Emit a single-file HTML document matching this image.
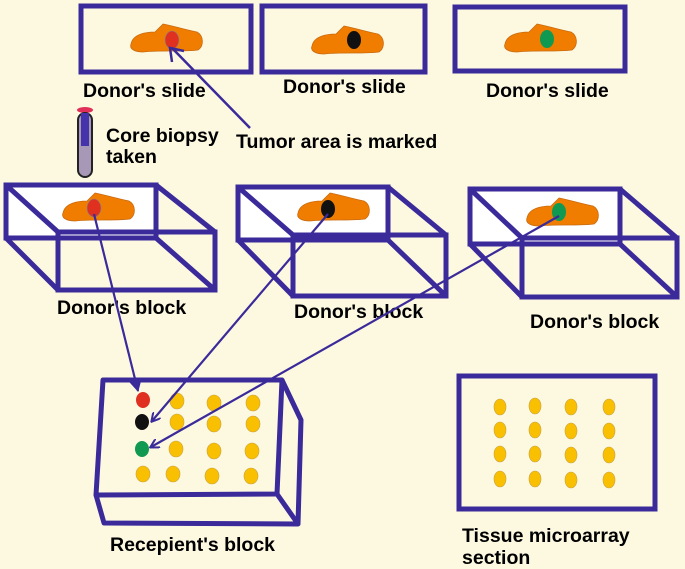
<html><body style="margin:0;background:#fdf9e1">
<svg width="685" height="569" xmlns="http://www.w3.org/2000/svg" style="display:block;font-family:'Liberation Sans',sans-serif;font-weight:bold;font-size:19.5px">
<defs>
<path id="blob" d="M0,20 C2,10 15,8 24,8 L32,0 C42,2 56,6 66,8 C73,12 73,22 67,26 C50,28 30,26 12,28 C4,28 -2,25 0,20 Z" fill="#f07d00" stroke="#c96a10" stroke-width="0.8"/>
<marker id="ah" markerWidth="10" markerHeight="10" refX="8" refY="5" orient="auto" markerUnits="userSpaceOnUse"><path d="M0,0 L9,5 L0,10" fill="none" stroke="#3b2a9a" stroke-width="2"/></marker>
<marker id="ahf" markerWidth="14" markerHeight="14" refX="12" refY="7" orient="auto" markerUnits="userSpaceOnUse"><path d="M0,0 L13,7 L0,14 Z" fill="#3b2a9a"/></marker>
</defs>
<rect width="685" height="569" fill="#fdf9e1"/>
<g fill="none" stroke="#3b2a9a" stroke-width="5">
<rect x="81" y="6" width="170" height="66"/>
<rect x="262" y="6" width="163" height="66"/>
<rect x="455" y="7" width="170" height="64"/>
</g>
<use href="#blob" x="131" y="24"/>
<ellipse cx="172" cy="40" rx="7" ry="9" fill="#e03020" stroke="#888" stroke-width="0.6"/>
<use href="#blob" x="312" y="26"/>
<ellipse cx="354" cy="40" rx="7" ry="9" fill="#111"/>
<use href="#blob" x="505" y="24"/>
<ellipse cx="547" cy="39" rx="7" ry="9" fill="#109950"/>
<text x="83" y="97">Donor's slide</text>
<text x="283" y="93">Donor's slide</text>
<text x="486" y="97">Donor's slide</text>
<line x1="250" y1="128" x2="172" y2="48" stroke="#3b2a9a" stroke-width="2.5"/>
<path d="M172,62 L170,48 L184,51" fill="none" stroke="#3b2a9a" stroke-width="2.5"/>
<text x="236" y="148">Tumor area is marked</text>
<text x="106" y="142">Core biopsy</text><text x="106" y="163">taken</text>
<ellipse cx="85" cy="110" rx="8" ry="3" fill="#e0305a"/>
<rect x="78" y="113" width="14" height="64" rx="7" fill="#a898b8" stroke="#222" stroke-width="2"/>
<rect x="81" y="113" width="8" height="33" fill="#4433aa"/>
<g stroke="#3b2a9a" stroke-width="5" fill="none">
<rect x="6" y="185" width="150" height="53" fill="#fff"/>
<line x1="6" y1="185" x2="58" y2="232"/><line x1="156" y1="185" x2="215" y2="232"/>
<line x1="6" y1="238" x2="58" y2="290"/><line x1="156" y1="238" x2="215" y2="290"/>
<rect x="58" y="232" width="157" height="58"/>
<rect x="238" y="187" width="150" height="53" fill="#fff"/>
<line x1="238" y1="187" x2="293" y2="235"/><line x1="388" y1="187" x2="446" y2="235"/>
<line x1="238" y1="240" x2="293" y2="296"/><line x1="388" y1="240" x2="446" y2="296"/>
<rect x="293" y="235" width="153" height="61"/>
<rect x="470" y="189" width="150" height="55" fill="#fff"/>
<line x1="470" y1="189" x2="522" y2="238"/><line x1="620" y1="189" x2="677" y2="238"/>
<line x1="470" y1="244" x2="522" y2="297"/><line x1="620" y1="244" x2="677" y2="297"/>
<rect x="522" y="238" width="155" height="59"/>
</g>
<use href="#blob" x="63" y="193"/><ellipse cx="94" cy="208" rx="7" ry="9" fill="#e03020" stroke="#888" stroke-width="0.6"/>
<use href="#blob" x="298" y="193"/><ellipse cx="328" cy="209" rx="7" ry="9" fill="#111"/>
<use href="#blob" x="527" y="198"/><ellipse cx="559" cy="212" rx="7" ry="9" fill="#109950"/>
<text x="57" y="314">Donor's block</text>
<text x="294" y="318">Donor's block</text>
<text x="530" y="328">Donor's block</text>
<g stroke="#3b2a9a" stroke-width="5" fill="none" stroke-linejoin="round">
<path d="M103,380 L282,380 L277,494 L96,495 Z"/>
<path d="M282,380 L301,420 L298,524 L104,523 L96,495"/>
<line x1="277" y1="494" x2="298" y2="524"/>
</g>
<g fill="#f8c000" stroke="#c9a040" stroke-width="0.6">
<ellipse cx="177" cy="401" rx="7" ry="8"/><ellipse cx="214" cy="403" rx="7" ry="8"/><ellipse cx="253" cy="403" rx="7" ry="8"/>
<ellipse cx="177" cy="422" rx="7" ry="8"/><ellipse cx="214" cy="424" rx="7" ry="8"/><ellipse cx="253" cy="424" rx="7" ry="8"/>
<ellipse cx="176" cy="449" rx="7" ry="8"/><ellipse cx="214" cy="451" rx="7" ry="8"/><ellipse cx="252" cy="451" rx="7" ry="8"/>
<ellipse cx="143" cy="474" rx="7" ry="8"/><ellipse cx="173" cy="474" rx="7" ry="8"/><ellipse cx="212" cy="476" rx="7" ry="8"/><ellipse cx="251" cy="476" rx="7" ry="8"/>
</g>
<ellipse cx="143" cy="400" rx="7" ry="8" fill="#e03020"/>
<ellipse cx="142" cy="422" rx="7" ry="8" fill="#111"/>
<ellipse cx="142" cy="449" rx="7" ry="8" fill="#109950"/>
<g stroke="#3b2a9a" stroke-width="2.2">
<line x1="94" y1="214" x2="138" y2="391" marker-end="url(#ahf)"/>
<line x1="328" y1="214" x2="152" y2="421" marker-end="url(#ah)"/>
<line x1="559" y1="216" x2="151" y2="447" marker-end="url(#ah)"/>
</g>
<text x="110" y="551">Recepient's block</text>
<rect x="459" y="376" width="196" height="133" fill="none" stroke="#3b2a9a" stroke-width="5"/>
<g fill="#f8c000" stroke="#c9a040" stroke-width="0.6">
<ellipse cx="500" cy="407" rx="6" ry="8"/><ellipse cx="535" cy="406" rx="6" ry="8"/><ellipse cx="571" cy="407" rx="6" ry="8"/><ellipse cx="609" cy="407" rx="6" ry="8"/>
<ellipse cx="500" cy="430" rx="6" ry="8"/><ellipse cx="535" cy="430" rx="6" ry="8"/><ellipse cx="571" cy="431" rx="6" ry="8"/><ellipse cx="609" cy="431" rx="6" ry="8"/>
<ellipse cx="500" cy="454" rx="6" ry="8"/><ellipse cx="535" cy="454" rx="6" ry="8"/><ellipse cx="571" cy="455" rx="6" ry="8"/><ellipse cx="609" cy="455" rx="6" ry="8"/>
<ellipse cx="500" cy="479" rx="6" ry="8"/><ellipse cx="535" cy="479" rx="6" ry="8"/><ellipse cx="571" cy="480" rx="6" ry="8"/><ellipse cx="609" cy="480" rx="6" ry="8"/>
</g>
<text x="462" y="542">Tissue microarray</text>
<text x="462" y="564">section</text>
</svg>
</body></html>
